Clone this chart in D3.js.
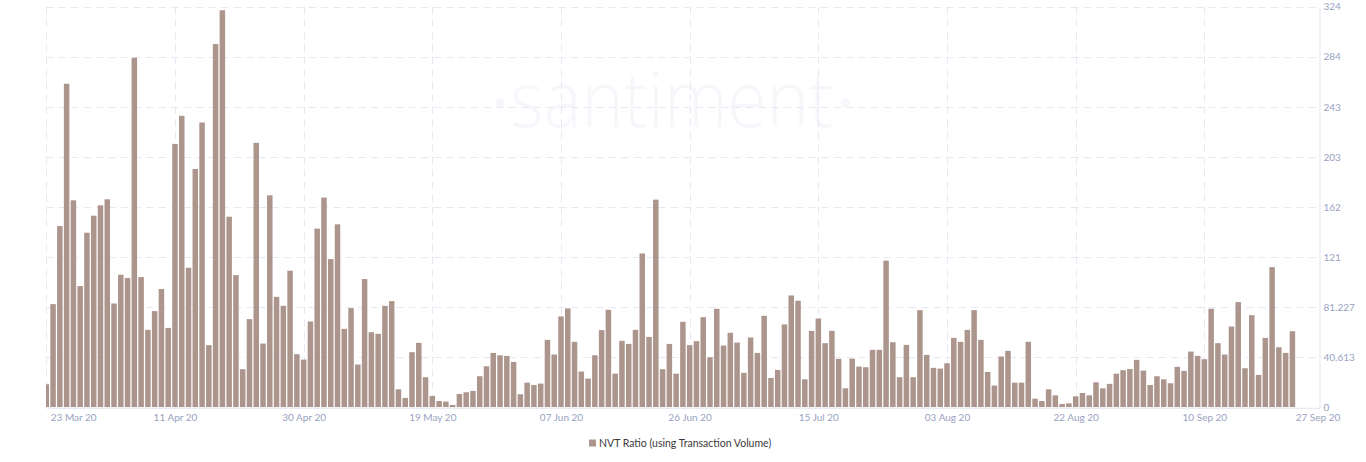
<!DOCTYPE html>
<html>
<head>
<meta charset="utf-8">
<script src="https://cdn.jsdelivr.net/npm/d3@7"></script>
<style>
  body { margin: 0; background: #fff; }
  svg { display: block; font-family: Lato, "Open Sans", sans-serif; }
</style>
</head>
<body>
<script>
"use strict";

// daily NVT ratio values, starting 23 Mar 2020
const startDate = "2020-03-23";
const nvtValues = [
    18.7, 83.7, 147, 262.4, 167.9, 98.3, 141.6, 155.4, 163.8, 168.7,
    84.2, 107.5, 104.8, 283.5, 105.6, 62.8, 78, 95.9, 64.4, 213.6,
    236.4, 113.2, 193.3, 231, 50.4, 294.6, 322, 154.6, 107.2, 30.9,
    71.5, 214.5, 51.7, 171.9, 89.6, 82.3, 110.8, 43.1, 38.7, 69.6,
    144.9, 170.1, 120.2, 148.4, 63.6, 80.4, 34.7, 104, 60.9, 59.6,
    82.3, 86.1, 14.6, 7.6, 44.7, 52.3, 24.4, 9.2, 5.1, 4.6,
    1.9, 10.8, 12.2, 13.3, 25.2, 33.3, 44.1, 42.2, 41.7, 36.8,
    10.6, 20, 18.1, 19.2, 54.7, 42.8, 73.7, 80.2, 53.1, 29,
    23.3, 42.2, 62.6, 79.1, 27.3, 53.9, 51.4, 62.8, 124.8, 57.1,
    168.4, 30.9, 51.4, 27.3, 69.3, 50.4, 53.6, 73.1, 40.6, 79.9,
    50.1, 60.4, 52.5, 27.9, 56.6, 44.1, 74.2, 23.8, 30.3, 67.2,
    90.7, 86.4, 22.7, 62, 72, 52, 62, 39.3, 15.4, 39.5,
    33, 32.5, 46.6, 46.6, 118.9, 52.8, 24.4, 50.6, 24.4, 78.8,
    42.5, 32, 31.4, 35.7, 56.3, 53.1, 62.8, 78.8, 54.7, 28.7,
    17.6, 41.2, 45.8, 20, 20, 53.1, 7, 5.1, 14.6, 9.7,
    2.7, 3.2, 8.9, 11.6, 9.7, 20.3, 15.4, 19, 27.3, 30.1,
    31.1, 38.5, 29.8, 18.1, 25.2, 22.7, 19.5, 32.8, 29.5, 45.2,
    41.7, 39, 79.9, 52, 42.8, 65.5, 85.3, 31.7, 74.7, 26.3,
    56.3, 113.7, 48.7, 44.1, 61.7
];

const xDomain = ["2020-03-23", "2020-09-27"];
const xTickDates = ["2020-03-23", "2020-04-11", "2020-04-30", "2020-05-19", "2020-06-07",
    "2020-06-26", "2020-07-15", "2020-08-03", "2020-08-22", "2020-09-10", "2020-09-27"];
const xTickLabels = ["23 Mar 20", "11 Apr 20", "30 Apr 20", "19 May 20", "07 Jun 20",
    "26 Jun 20", "15 Jul 20", "03 Aug 20", "22 Aug 20", "10 Sep 20", "27 Sep 20"];

const yMax = 324.9;
const yTickValues = [0, 40.613, 81.227, 121.84, 162.45, 203.07, 243.68, 284.3, 324.9];
const yTickLabels = ["0", "40.613", "81.227", "121", "162", "203", "243", "284", "324"];

const seriesName = "NVT Ratio (using Transaction Volume)";

// layout
const size = { width: 1366, height: 462, left: 46, right: 1319.5, top: 6.7, bottom: 407.3 };
const barColor = "#ac958c";
const gridColor = "#e6e9f2";
const labelColor = "#98a2bf";

const parseDate = d3.utcParse("%Y-%m-%d");
const start = parseDate(startDate);
const data = nvtValues.map((v, i) => ({ date: d3.utcDay.offset(start, i), value: v }));

const svg = d3.select("body").append("svg")
    .attr("width", size.width)
    .attr("height", size.height);

const x = d3.scaleUtc()
    .domain(xDomain.map(parseDate))
    .range([size.left + 0.3, size.right]);

const y = d3.scaleLinear()
    .domain([0, yMax])
    .range([size.bottom, size.top]);

// watermark
const wm = svg.append("g").attr("fill", "#f6f7fb");
wm.append("text")
    .attr("x", 510)
    .attr("y", 127)
    .attr("textLength", 323)
    .attr("lengthAdjust", "spacingAndGlyphs")
    .style("font-family", "'Open Sans', sans-serif")
    .style("font-weight", 300)
    .style("font-size", "78px")
    .text("santiment");
wm.append("circle").attr("cx", 500).attr("cy", 103).attr("r", 4.5);
wm.append("circle").attr("cx", 845.5).attr("cy", 103).attr("r", 4.5);

// gridlines
const grid = svg.append("g")
    .attr("stroke", gridColor)
    .attr("stroke-width", 1)
    .attr("stroke-dasharray", "7.5,5");

grid.selectAll(".hgrid")
    .data(yTickValues.slice(1))
    .enter()
    .append("line")
    .attr("x1", size.left)
    .attr("x2", size.right)
    .attr("y1", d => Math.round(y(d)) + 0.5)
    .attr("y2", d => Math.round(y(d)) + 0.5);

grid.selectAll(".vgrid")
    .data(xTickDates.slice(0, -1).map(parseDate))
    .enter()
    .append("line")
    .attr("x1", d => Math.round(x(d)) + 0.5)
    .attr("x2", d => Math.round(x(d)) + 0.5)
    .attr("y1", size.top)
    .attr("y2", size.bottom);

// bars
svg.append("clipPath").attr("id", "plot")
    .append("rect")
    .attr("x", size.left)
    .attr("y", 0)
    .attr("width", size.right - size.left)
    .attr("height", size.bottom);

const barWidth = 5.5;
svg.append("g")
    .attr("clip-path", "url(#plot)")
    .selectAll("rect")
    .data(data)
    .enter()
    .append("rect")
    .attr("x", d => x(d.date) - barWidth / 2)
    .attr("y", d => y(d.value))
    .attr("width", barWidth)
    .attr("height", d => y(0) - y(d.value))
    .attr("fill", barColor);

// x axis
const xAxis = d3.axisBottom(x)
    .tickValues(xTickDates.map(parseDate))
    .tickFormat((d, i) => xTickLabels[i])
    .tickSize(0)
    .tickPadding(6);

const gx = svg.append("g")
    .attr("transform", `translate(0,${size.bottom + 0.5})`)
    .call(xAxis);
gx.select(".domain").attr("stroke", "#e3e6ef");
gx.selectAll("text")
    .attr("fill", labelColor)
    .style("font-size", "10px")
    .style("font-family", "Lato, sans-serif");
gx.selectAll(".tick").filter((d, i) => i === 0).select("text")
    .attr("text-anchor", "start")
    .attr("x", 4);
gx.selectAll(".tick").filter((d, i) => i === xTickDates.length - 1).select("text")
    .attr("x", -2);

// y axis on the right
const yAxis = d3.axisRight(y)
    .tickValues(yTickValues)
    .tickFormat((d, i) => yTickLabels[i])
    .tickSize(0)
    .tickPadding(4);

const gy = svg.append("g")
    .attr("transform", `translate(${size.right},0)`)
    .call(yAxis);
gy.select(".domain").attr("stroke", "#e3e6ef");
gy.selectAll("text")
    .attr("fill", labelColor)
    .style("font-size", "10px")
    .style("font-family", "Lato, sans-serif");

// legend
const legend = svg.append("g").attr("transform", "translate(589,443)");
legend.append("rect")
    .attr("x", 0)
    .attr("y", -3.5)
    .attr("width", 7)
    .attr("height", 7)
    .attr("fill", barColor);
legend.append("text")
    .attr("x", 10)
    .attr("y", 0)
    .attr("dy", "0.35em")
    .attr("fill", "#3a3a3a")
    .style("font-size", "10.5px")
    .style("font-family", "Lato, sans-serif")
    .text(seriesName);
</script>
</body>
</html>
